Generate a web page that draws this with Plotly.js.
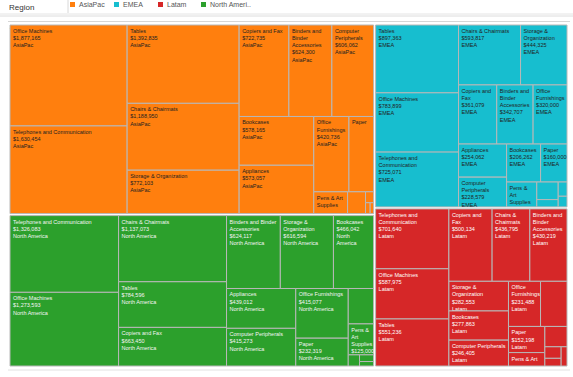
<!DOCTYPE html>
<html><head><meta charset="utf-8">
<script src="https://cdn.plot.ly/plotly-3.0.1.min.js"></script>
<style>html,body{margin:0;padding:0;background:#fff}#chart{width:573px;height:377px}</style>
</head><body><div id="chart"></div>
<script>
const regions = ["AsiaPac", "EMEA", "Latam", "North America"];
const regionLegendLabels = ["AsiaPac", "EMEA", "Latam", "North Ameri.."];
const regionColors = ["#FF7F0E", "#17BECF", "#D62728", "#2CA02C"];
const regionTextColors = ["#222222", "#222222", "#ffffff", "#f4f4f4"];

const subcategories = [
  "Office Machines", "Telephones and Communication", "Tables", "Chairs & Chairmats",
  "Storage & Organization", "Copiers and Fax", "Binders and Binder Accessories", "Bookcases",
  "Appliances", "Computer Peripherals", "Office Furnishings", "Paper",
  "Pens & Art Supplies", "Envelopes", "Labels", "Rubber Bands", "Scissors, Rulers and Trimmers"
];

const salesAsiaPac = [1877165, 1630454, 1392835, 1188950, 772103, 722735, 624300, 578165, 573057, 606062, 420736, 294980, 117000, 62000, 14000, 6000, 8000];
const salesEMEA = [783899, 725071, 897363, 593817, 444325, 361079, 342707, 206262, 254062, 228579, 320000, 160000, 120000, 60000, 25000, 15000, 20000];
const salesLatam = [587975, 701640, 551236, 436795, 282553, 500134, 430219, 277863, 190942, 246405, 231488, 152198, 78000, 72000, 30000, 18000, 20000];
const salesNorthAmerica = [1273593, 1326083, 784596, 1137073, 616594, 663450, 624117, 466042, 439012, 415273, 415077, 232319, 125000, 143073, 20000, 10000, 15000];

const salesByRegion = [salesAsiaPac, salesEMEA, salesLatam, salesNorthAmerica];

const FONT = "Liberation Sans, Arial, sans-serif";
const FONT_SIZE = 5.5;
const LINE_H = FONT_SIZE * 1.3;

const ids = ["root"], labels = [""], parents = [""], values = [], colors = ["#ffffff"],
      tcolors = ["#000"], lineColors = ["#ffffff"], lineWidths = [0], leafInfo = [null];
const regionTotals = salesByRegion.map(a => a.reduce((s, v) => s + v, 0));
values.push(regionTotals.reduce((s, v) => s + v, 0));
regions.forEach((r, i) => {
  ids.push(r); labels.push(r); parents.push("root"); values.push(regionTotals[i]);
  colors.push("#ffffff"); tcolors.push("#000");
  lineColors.push("#ffffff"); lineWidths.push(0); leafInfo.push(null);
});
regions.forEach((r, i) => {
  subcategories.forEach((s, j) => {
    ids.push(r + " - " + s); labels.push(s); parents.push(r); values.push(salesByRegion[i][j]);
    colors.push(regionColors[i]); tcolors.push(regionTextColors[i]);
    lineColors.push("#b8b8b8"); lineWidths.push(1);
    leafInfo.push({ label: s, value: salesByRegion[i][j], region: r });
  });
});

const fmt = v => "$" + v.toLocaleString("en-US");
const fullText = leafInfo.map(d => d ? d.label + "<br>" + fmt(d.value) + "<br>" + d.region : "");

const trace = {
  type: "treemap",
  ids: ids, labels: labels, parents: parents, values: values,
  branchvalues: "total",
  sort: true,
  marker: { colors: colors, line: { color: lineColors, width: lineWidths }, pad: { t: 1, l: 1, r: 1, b: 1 } },
  leaf: { opacity: 1 },
  tiling: { packing: "squarify", squarifyratio: 1.618, pad: 0 },
  pathbar: { visible: false },
  text: fullText,
  texttemplate: "%{text}",
  textposition: "top left",
  textfont: { family: FONT, size: FONT_SIZE, color: tcolors },
  hoverinfo: "skip"
};

// header decorations (paper coords helper)
const W = 573, H = 377, ML = 8, MR = 4, MT = 23, MB = 9;
const px = x => (x - ML) / (W - ML - MR);
const py = y => (H - MB - y) / (H - MT - MB);

const shapes = [
  { type: "line", xref: "paper", yref: "paper", x0: px(68), x1: px(68), y0: py(0), y1: py(13), line: { color: "#d8d8d8", width: 1 } },
  { type: "line", xref: "paper", yref: "paper", x0: px(0), x1: px(573), y0: py(14), y1: py(14), line: { color: "#e4e4e4", width: 1 } },
  { type: "line", xref: "paper", yref: "paper", x0: px(0), x1: px(573), y0: py(16), y1: py(16), line: { color: "#dcdcdc", width: 1 } },
  { type: "line", xref: "paper", yref: "paper", x0: px(8), x1: px(570), y0: py(21.5), y1: py(21.5), line: { color: "#d6d6d6", width: 1 } },
  { type: "line", xref: "paper", yref: "paper", x0: px(8), x1: px(570), y0: py(370), y1: py(370), line: { color: "#e2e2e2", width: 1 } }
];
const annotations = [
  { xref: "paper", yref: "paper", x: px(7), y: py(7.5), xanchor: "left", yanchor: "middle", showarrow: false,
    text: "Region", font: { family: FONT, size: 8, color: "#333" } }
];
const legendX = [70, 114, 158, 201];
regions.forEach((r, i) => {
  shapes.push({ type: "rect", xref: "paper", yref: "paper", x0: px(legendX[i]), x1: px(legendX[i] + 5), y0: py(2), y1: py(7),
    fillcolor: regionColors[i], line: { width: 0 } });
  annotations.push({ xref: "paper", yref: "paper", x: px(legendX[i] + 7), y: py(4.5), xanchor: "left", yanchor: "middle", showarrow: false,
    text: regionLegendLabels[i], font: { family: FONT, size: 7, color: "#555" } });
});

const layout = {
  width: W, height: H,
  margin: { l: ML, r: MR, t: MT, b: MB, pad: 0 },
  paper_bgcolor: "#ffffff",
  uniformtext: { mode: "show", minsize: FONT_SIZE },
  shapes: shapes, annotations: annotations
};

// text wrapping like the original tool: wrap to the cell width, drop lines that do not fit
const ctx = document.createElement("canvas").getContext("2d");
ctx.font = FONT_SIZE + "px 'Liberation Sans'";
const tw = s => ctx.measureText(s).width;
function wrap(str, maxW) {
  const words = str.split(" "), out = [];
  let cur = "";
  words.forEach(w => {
    const t = cur ? cur + " " + w : w;
    if (!cur || tw(t) <= maxW) cur = t; else { out.push(cur); cur = w; }
  });
  if (cur) out.push(cur);
  return out;
}
function cellText(d, w, h) {
  const maxW = w - 6;
  const maxLines = Math.floor((h - 1) / LINE_H);
  if (maxLines < 1 || maxW < 8) return "";
  const lines = [].concat(wrap(d.label, maxW), wrap(fmt(d.value), maxW), wrap(d.region, maxW));
  const kept = [];
  for (const ln of lines) {
    if (kept.length >= maxLines) break;
    if (tw(ln) > w - 2) break;
    kept.push(ln);
  }
  return kept.join("<br>");
}

const gd = document.getElementById("chart");
Plotly.newPlot(gd, [trace], layout, { displayModeBar: false, staticPlot: true }).then(() => {
  const sizes = {};
  gd.querySelectorAll("g.slice").forEach(g => {
    const d = g.__data__;
    const id = d && d.data && d.data.data ? d.data.data.id : null;
    const p = g.querySelector("path.surface") || g.querySelector("path");
    if (id == null || !p) return;
    const bb = p.getBBox();
    sizes[id] = [bb.width, bb.height];
  });
  if (Object.keys(sizes).length === 0) return;
  const text = ids.map((id, k) => leafInfo[k] && sizes[id] ? cellText(leafInfo[k], sizes[id][0], sizes[id][1]) : "");
  return Plotly.restyle(gd, { text: [text] });
});
</script></body></html>
